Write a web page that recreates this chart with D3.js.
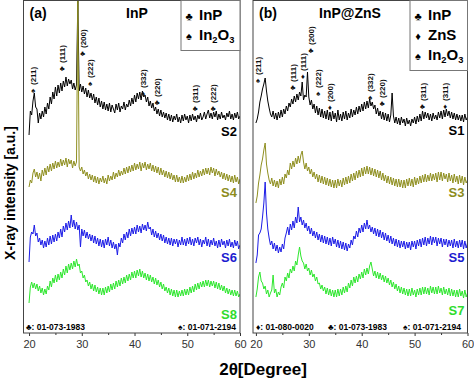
<!DOCTYPE html>
<html><head><meta charset="utf-8">
<script src="https://cdn.jsdelivr.net/npm/d3@7/dist/d3.min.js"></script>
<style>body{margin:0;background:#fff} svg{display:block;font-family:Arial,"Liberation Sans",Helvetica,sans-serif}</style>
</head><body><svg id="c" width="474" height="379"></svg>
<script>
// ---------- data ----------
const angleStart = 20, angleStep = 0.25; // 2θ sampling grid (161 points, 20..60)
const xTicks = [20, 30, 40, 50, 60];
const xMinorTicks = [25, 35, 45, 55];

// Panel (a) InP
const s2 = [198,222,218,232, 240,226,224,210, 220,214,222,216, 226,219,230,224, 236,229,241,234, 246,237,248,240, 250,242,252,246, 256,247,254,249, 253,244,250,243, 248,332,242,249,
 241,247,239,245, 236,243,235,240, 233,239,230,236, 228,235,226,232, 224,231,223,229, 222,230,221,228, 224,220,229,223, 230,221,227,224, 231,223,229,226, 233,227,235,229,
 238,231,240,234, 241,233,242,236, 238,231,236,227, 232,225,230,222, 226,219,224,217, 223,216,221,215, 220,213,219,212, 218,211,217,213, 219,211,216,210, 218,212,219,213,
 217,210,218,212, 219,213,217,211, 218,214,220,213, 216,221,214,219, 223,215,220,214, 221,216,222,213, 219,214,221,215, 218,213,220,216, 222,214,219,213, 220,215,221,214, 217];
const s4 = [146,153,150,160, 164,156,161,154, 160,152,163,157, 165,158,167,161, 169,162,170,164, 172,165,171,166, 174,167,173,168, 175,166,174,169, 173,165,172,167, 171,332,166,162,
 166,159,163,157, 161,154,159,153, 158,151,157,150, 156,149,155,151, 157,150,155,149, 158,152,157,153, 161,154,160,156, 163,157,162,158, 165,159,166,160, 167,161,168,162,
 170,163,169,164, 171,162,170,165, 171,163,169,164, 170,162,168,161, 167,160,166,158, 165,158,163,156, 162,155,161,154, 160,153,158,151, 158,151,156,150, 157,150,156,151,
 158,152,159,153, 161,154,160,155, 163,156,162,157, 164,158,165,159, 165,158,166,160, 165,157,164,158, 162,156,161,154, 160,153,159,152, 158,151,157,150, 158,151,156,149, 154];
const s6 = [71,96,101,99, 108,97,100,91, 95,88,93,85, 92,86,95,88, 97,89,98,91, 99,92,101,95, 104,96,107,101, 110,103,112,105, 118,106,113,104, 111,103,108,86,
 104,97,103,95, 101,94,99,92, 98,90,97,89, 95,87,94,86, 93,85,94,88, 96,87,93,85, 91,84,89,78, 90,86,95,90, 99,93,101,95, 104,97,105,99,
 106,99,108,101, 107,100,109,103, 108,102,111,104, 106,98,104,96, 102,95,100,93, 99,92,98,90, 96,89,95,88, 95,87,94,89, 94,86,93,88, 96,88,94,87,
 95,89,96,88, 94,87,95,90, 96,88,94,86, 93,89,96,87, 94,86,93,88, 95,87,92,85, 93,86,94,88, 92,85,93,87, 94,86,91,85, 93,87,92,84, 88];
const s8 = [30,46,51,45, 50,44,49,42, 47,40,45,38, 44,39,47,43, 52,46,55,50, 58,51,59,53, 61,55,64,58, 67,60,69,63, 70,64,72,66, 74,67,69,60,
 62,55,58,51, 53,47,51,44, 49,42,48,41, 46,39,45,38, 45,38,46,40, 47,41,49,43, 50,44,52,46, 53,47,55,49, 56,50,58,52, 59,53,61,55,
 62,55,63,57, 64,56,62,55, 60,53,59,52, 58,51,56,49, 55,48,53,46, 51,44,49,42, 46,40,45,38, 44,37,43,36, 43,36,42,37, 43,37,44,38,
 44,38,46,40, 47,41,49,43, 50,44,51,46, 52,46,53,47, 53,46,52,47, 52,45,51,44, 50,43,48,42, 47,40,45,39, 44,38,43,37, 43,37,42,36, 39];

// Panel (b) InP@ZnS
const s1 = [210,214,221,231, 237,244,249,255, 242,232,225,219, 216,222,214,220, 213,221,215,223, 216,224,219,227, 222,230,226,234, 229,237,231,239, 233,241,237,251, 233,238,236,261,
 236,228,233,224, 229,220,227,218, 225,216,224,215, 222,214,223,213, 221,212,222,214, 220,211,223,213, 219,212,221,214, 222,213,220,215, 224,216,223,218, 226,219,227,221,
 229,222,231,224, 232,225,234,227, 231,224,228,219, 225,217,222,214, 221,213,220,212, 219,211,218,240, 217,210,216,209, 215,208,216,210, 214,207,215,209, 213,207,214,210,
 216,209,217,211, 219,212,222,214, 221,215,220,213, 219,212,220,214, 218,213,221,215, 222,214,223,216, 224,217,222,215, 221,214,220,213, 219,213,218,212, 218,211,219,213, 216];
const s3 = [130,137,150,158, 168,174,183,190, 169,160,153,149, 155,147,153,146, 152,145,154,148, 156,149,159,155, 163,158,170,164, 172,166,175,169, 177,170,178,182, 171,164,170,162,
 166,159,164,156, 161,154,159,151, 158,150,157,149, 156,148,155,147, 154,146,153,145, 153,145,154,147, 153,146,155,148, 156,149,157,150, 159,152,160,153, 162,155,163,156,
 165,157,166,159, 167,159,166,158, 165,157,164,156, 163,155,162,153, 160,152,158,150, 157,149,156,148, 155,147,154,146, 154,146,153,145, 153,145,154,147, 155,147,154,146,
 156,148,155,149, 157,150,158,151, 159,151,158,152, 160,152,159,153, 160,151,161,153, 161,152,160,154, 159,151,160,152, 158,150,159,151, 157,149,158,150, 157,148,156,150, 153];
const s5 = [70,78,98,100, 104,116,130,151, 120,104,95,88, 92,84,90,82, 88,80,86,81, 89,84,95,100, 106,98,109,103, 112,105,116,110, 126,111,116,108, 113,105,110,102,
 107,99,105,97, 102,95,101,93, 99,91,98,90, 97,89,96,88, 95,87,96,89, 94,86,93,85, 92,84,91,83, 90,82,89,85, 93,88,97,94, 102,96,105,100,
 108,101,110,104, 113,104,108,101, 106,99,105,97, 104,96,103,95, 101,93,100,92, 98,90,97,89, 95,87,94,86, 93,85,92,86, 92,84,91,85, 91,83,92,86,
 92,84,93,87, 94,86,95,88, 96,87,95,89, 97,88,96,90, 96,87,95,89, 95,86,94,88, 94,86,93,87, 93,85,94,86, 92,85,93,86, 93,84,92,85, 90];
const s7 = [36,44,56,61, 52,50,44,47, 39,43,36,40, 43,58,40,44, 36,41,38,46, 50,45,56,52, 60,55,64,60, 67,62,72,68, 78,86,77,72, 70,64,69,62,
 65,58,63,56, 59,52,56,49, 50,44,48,42, 46,39,45,38, 44,37,43,36, 43,36,44,37, 44,38,46,40, 47,41,50,45, 53,47,56,50, 57,51,59,54,
 61,55,64,58, 65,59,67,71, 64,57,62,55, 61,54,60,53, 58,51,57,50, 55,48,53,46, 51,44,49,42, 47,40,46,39, 45,38,44,37, 44,37,45,38,
 43,36,44,38, 45,38,46,39, 46,39,45,38, 47,40,46,39, 46,39,47,40, 45,38,46,39, 44,38,45,37, 44,37,43,36, 43,36,44,37, 42,35,43,36, 40];

const seriesA = ["S2","S4","S6","S8"];
const seriesB = ["S1","S3","S5","S7"];
const seriesData = {S1:s1,S2:s2,S3:s3,S4:s4,S5:s5,S6:s6,S7:s7,S8:s8};
// label placement level (intensity units) for sample names
const labelLevelA = [197,136,71,14];
const labelLevelB = [198,136,71,18];

// peak annotations: angle, hkl, phase, level (intensity units)
const peakAngA = [20.8,26.3,30.2,31.6,41.6,44.3,51.5,54.9];
const peakHklA = ["(211)","(111)","(200)","(222)","(332)","(220)","(311)","(222)"];
const peakPhA  = ["In2O3","InP","InP","In2O3","In2O3","InP","InP","InP"];
const peakLvA  = [243,265,280,250,240,231,225,225];
const peakAngB = [20.4,27.0,28.9,30.4,31.8,34.0,41.6,43.9,51.5,55.8];
const peakHklB = ["(211)","(111)","(111)","(200)","(222)","(200)","(332)","(220)","(311)","(311)"];
const peakPhB  = ["In2O3","InP","ZnS","InP","In2O3","ZnS","In2O3","InP","InP","ZnS"];
const peakLvB  = [253,246,257,283,240,226,236,230,227,227];

const phaseSym = {InP:"\u2663", In2O3:"\u2660", ZnS:"\u2666"};
const legendA = ["InP","In2O3"];
const legendB = ["InP","ZnS","In2O3"];
const refsA = [["InP","01-073-1983"],["In2O3","01-071-2194"]];
const refsB = [["ZnS","01-080-0020"],["InP","01-073-1983"],["In2O3","01-071-2194"]];

// ---------- styles ----------
const colors = {S1:"#000",S2:"#000",S3:"#8f8f20",S4:"#8f8f20",S5:"#1c1ce6",S6:"#1c1ce6",S7:"#2ee62e",S8:"#2ee62e"};
const labelColors = {S1:"#000",S2:"#000",S3:"#8c8c1c",S4:"#8c8c1c",S5:"#1c1cd0",S6:"#1c1cd0",S7:"#2edc2e",S8:"#2edc2e"};

const svg = d3.select("#c");
const frameTop = 0.5, frameBottom = 333;
const y = d3.scaleLinear().domain([0,332]).range([frameBottom,1]);
const angles = s1.map((_,i)=>angleStart+i*angleStep);

function phaseText(sel, name, big){
  if(name==="In2O3"){
    sel.append("tspan").text("In");
    sel.append("tspan").attr("font-size", big*0.62).attr("dy", big*0.22).text("2");
    sel.append("tspan").attr("dy", -big*0.22).text("O");
    sel.append("tspan").attr("font-size", big*0.62).attr("dy", big*0.22).text("3");
  } else sel.text(name);
}

function panel(o){
  const x = d3.scaleLinear().domain(o.domain).range([o.left,o.right]);
  const g = svg.append("g");
  const cid = "clip"+o.id;
  svg.append("clipPath").attr("id",cid).append("rect")
    .attr("x",o.left).attr("y",frameTop).attr("width",o.right-o.left).attr("height",frameBottom-frameTop);
  const ax = g.append("g").attr("transform",`translate(0,${frameBottom})`)
    .call(d3.axisBottom(x).tickValues(xTicks).tickSize(3).tickSizeOuter(0).tickPadding(4));
  ax.select(".domain").remove();
  ax.selectAll("text").attr("font-size",11).attr("fill","#333").attr("font-family","Arial,'Liberation Sans',sans-serif");
  ax.selectAll("line").attr("stroke","#333");
  const mx = g.append("g").attr("transform",`translate(0,${frameBottom})`)
    .call(d3.axisBottom(x).tickValues(xMinorTicks).tickSize(2).tickFormat(""));
  mx.select(".domain").remove();
  mx.selectAll("line").attr("stroke","#333");
  const lg = g.append("g").attr("clip-path",`url(#${cid})`);
  const line = d3.line().x((d,i)=>x(angles[i])).y(d=>y(d));
  o.series.forEach((s,k)=>{
    lg.append("path").datum(seriesData[s]).attr("d",line)
      .attr("fill","none").attr("stroke",colors[s]).attr("stroke-width",1).attr("stroke-linejoin","round");
    g.append("text").attr("x",o.right-3).attr("y",y(o.labelLv[k]))
      .attr("text-anchor","end").attr("font-size",13).attr("font-weight","bold")
      .attr("fill",labelColors[s]).text(s);
  });
  g.append("rect").attr("x",o.left).attr("y",frameTop).attr("width",o.right-o.left).attr("height",frameBottom-frameTop)
    .attr("fill","none").attr("stroke","#444").attr("stroke-width",1);
  o.pAng.forEach((a,i)=>{
    const px = x(a), py = y(o.pLv[i]);
    g.append("text").attr("x",px).attr("y",py+3).attr("text-anchor","middle")
      .attr("font-size",7.5).attr("fill","#111").text(phaseSym[o.pPh[i]]);
    g.append("text").attr("transform",`translate(${px+3},${py-5}) rotate(-90)`)
      .attr("font-size",8).attr("font-weight","bold").attr("fill","#111").text(o.pHkl[i]);
  });
  g.append("text").attr("x",o.left+6).attr("y",18).attr("font-size",14).attr("font-weight","bold").text(o.tag);
  g.append("text").attr("x",o.titleX).attr("y",18).attr("text-anchor","middle")
    .attr("font-size",14).attr("font-weight","bold").text(o.title);
  const lw = o.right - o.legLeft, lh = o.legend.length*20+10;
  g.append("rect").attr("x",o.legLeft).attr("y",frameTop).attr("width",lw).attr("height",lh)
    .attr("fill","#fff").attr("stroke","#777").attr("stroke-width",1);
  o.legend.forEach((p,i)=>{
    const yy = 20 + i*20;
    g.append("text").attr("x",o.legLeft+8).attr("y",yy).attr("text-anchor","middle")
      .attr("font-size",11).text(phaseSym[p]);
    phaseText(g.append("text").attr("x",o.legLeft+18).attr("y",yy).attr("font-size",15).attr("font-weight","bold"), p, 15);
  });
  o.refs.forEach((r,i)=>{
    g.append("text").attr("x",o.refX[i]).attr("y",330).attr("text-anchor",o.refAnchor[i])
      .attr("font-size",8.5).attr("font-weight","bold").text(phaseSym[r[0]]+": "+r[1]);
  });
}

panel({id:"a", domain:[18.95,60], left:23.5, right:240, series:seriesA, labelLv:labelLevelA,
  pAng:peakAngA, pHkl:peakHklA, pPh:peakPhA, pLv:peakLvA, tag:"(a)", title:"InP", titleX:137,
  legend:legendA, legLeft:181, refs:refsA, refX:[26,236], refAnchor:["start","end"]});
panel({id:"b", domain:[19.45,60], left:253, right:467.5, series:seriesB, labelLv:labelLevelB,
  pAng:peakAngB, pHkl:peakHklB, pPh:peakPhB, pLv:peakLvB, tag:"(b)", title:"InP@ZnS", titleX:350,
  legend:legendB, legLeft:410, refs:refsB, refX:[256,328,403], refAnchor:["start","start","start"]});

svg.append("text").attr("transform","translate(15,193) rotate(-90)").attr("text-anchor","middle")
  .attr("font-size",14).attr("font-weight","bold").text("X-ray intensity [a.u.]");
svg.append("text").attr("x",263).attr("y",375).attr("text-anchor","middle")
  .attr("font-size",17).attr("font-weight","bold").text("2\u03B8[Degree]");
</script></body></html>
